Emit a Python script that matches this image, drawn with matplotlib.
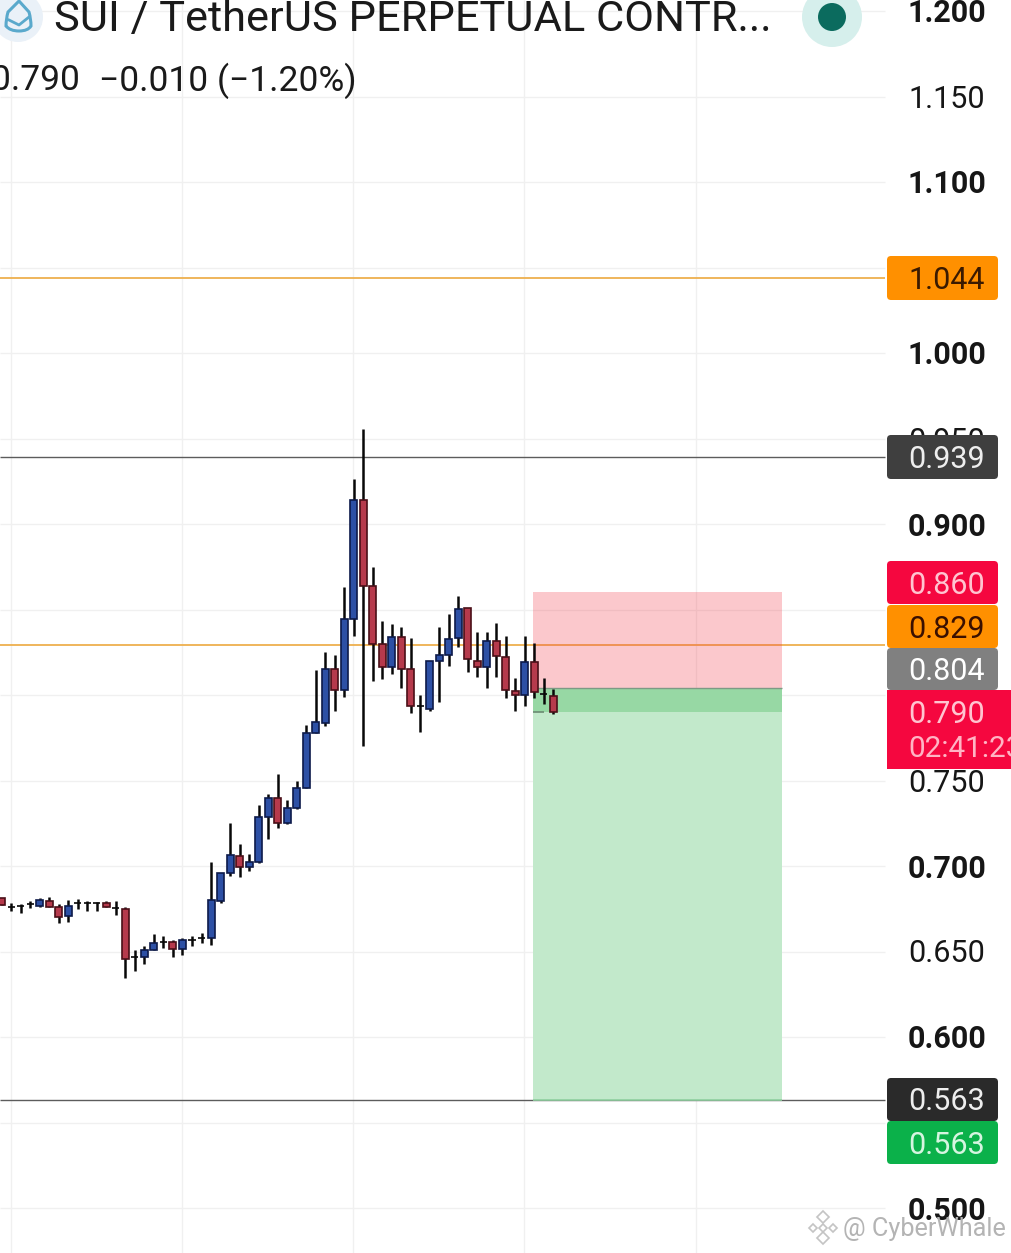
import matplotlib
matplotlib.use("Agg")
import matplotlib.pyplot as plt
from matplotlib.patches import FancyBboxPatch, Circle, Rectangle, PathPatch, Polygon
from matplotlib.path import Path

plt.rcParams['font.family'] = ['Roboto', 'DejaVu Sans']

opens = [.6811,.6762,.6766,.6776,.6766,.6797,.6762,.6707,.6785,.6785,.6785,.6782,.6752,.6747,.6469,.6466,.6509,.6557,.6554,.6513,.6567,.6577,.6577,.6797,
         .6957,.7060,.6992,.7025,.7285,.7396,.7250,.7337,.7454,.7780,.7835,.8150,.8030,.8443,.9140,.8638,.8297,.8162,.8338,.8151,.7938,.7920,.8197,.8232,.8332,.8507,.8201,.8162,.8314,.8224,.8025,.7998,.8192,.8005,.7995]
closes = [.6772,.6762,.6766,.6776,.6801,.6762,.6703,.6766,.6785,.6785,.6785,.6758,.6752,.6454,.6469,.6509,.6548,.6557,.6513,.6565,.6567,.6577,.6801,.6957,
          .7062,.6996,.7025,.7285,.7396,.7250,.7337,.7454,.7776,.7841,.8150,.8029,.8443,.9140,.8638,.8299,.8162,.8338,.8151,.7936,.7938,.8199,.8233,.8326,.8505,.8211,.8162,.8314,.8227,.8030,.7998,.8192,.8020,.8005,.7900]
highs = [.6811,.6785,.6776,.6797,.6811,.6817,.6778,.6801,.6807,.6797,.6789,.6793,.6797,.6762,.6509,.6532,.6602,.6590,.6567,.6577,.6590,.6610,.7025,.6959,
         .7250,.7129,.7070,.7357,.7419,.7538,.7386,.7499,.7825,.8146,.8252,.8234,.8634,.9263,.9555,.8751,.8433,.8416,.8400,.8334,.8000,.8199,.8400,.8474,.8579,.8509,.8367,.8367,.8421,.8345,.8098,.8345,.8303,.8098,.8033]
lows = [.6772,.6738,.6727,.6752,.6762,.6758,.6668,.6674,.6747,.6738,.6738,.6758,.6715,.6343,.6387,.6427,.6509,.6520,.6469,.6479,.6532,.6551,.6538,.6782,
        .6941,.6937,.6972,.7019,.7158,.7224,.7244,.7332,.7454,.7776,.7821,.7909,.7990,.8345,.7704,.8084,.8094,.8123,.8043,.7893,.7786,.7908,.7959,.8170,.8283,.8137,.8108,.8043,.8108,.7981,.7908,.7933,.7981,.7950,.7888]

grid_prices = [1.20,1.15,1.10,1.05,1.00,.95,.90,.85,.80,.75,.70,.65,.60,.55,.50]
grid_idx = [0.95,18.95,36.95,54.95,72.95]
axis_labels = [("1.200",1.2,True),("1.150",1.15,False),("1.100",1.1,True),("1.000",1.0,True),("0.950",.95,False),
               ("0.900",.9,True),("0.750",.75,False),("0.700",.7,True),("0.650",.65,False),("0.600",.6,True),("0.500",.5,True)]
orange_levels = [1.044,.829]
dark_levels = [.939,.563]
entry, stop, target, last = .804, .860, .563, .790
box_start, box_end = 55.85, 82.05

W, H = 1012, 1253
fig = plt.figure(figsize=(W/100, H/100), dpi=100, facecolor='white')
ax = fig.add_axes([0,0,1,1])
ax.set_axis_off()
PX_I0, PX_STEP = 1.8, 9.51
ax.set_xlim((0-PX_I0)/PX_STEP, (W-PX_I0)/PX_STEP)
ax.set_ylim((2063-H)/1710, 2063/1710)
xr = (885-PX_I0)/PX_STEP
xl = ax.get_xlim()[0]

ax.hlines(grid_prices, xl, xr, color='#f0f0f0', lw=1.0, zorder=1)
ax.vlines(grid_idx, ax.get_ylim()[0], ax.get_ylim()[1], color='#f0f0f0', lw=1.0, zorder=1)
ax.hlines(orange_levels, xl, xr, color='#eeb04e', lw=1.3, zorder=2)
ax.hlines(dark_levels, xl, xr, color='#5c5c5c', lw=1.0, zorder=2)

ax.add_patch(Rectangle((box_start, entry), box_end-box_start, stop-entry, fc='#f23645', alpha=.27, ec='none', zorder=3))
ax.add_patch(Rectangle((box_start, target), box_end-box_start, entry-target, fc='#c2e9cb', ec='none', zorder=3))
ax.add_patch(Rectangle((box_start, last), box_end-box_start, entry-last, fc='#97d8a4', ec='none', zorder=3))
ax.hlines(entry, box_start, box_end, color='#7d9a85', lw=1.0, zorder=3)
ax.hlines(target, box_start, box_end, color='#8fcf9f', lw=1.2, zorder=3)
ax.hlines(last, box_start, 57.0, color='#6a8a72', lw=1.2, zorder=4)

xs = list(range(len(opens)))
ax.vlines(xs, lows, highs, color='#080808', lw=1.8, zorder=5)
for x, o, c in zip(xs, opens, closes):
    up = c > o
    fc = '#2d50a5' if up else '#b63a4c'
    ec = '#0d1a4a' if up else '#4a0f18'
    if o == c:
        fc = ec = '#080808'
    ax.bar(x, abs(c-o), bottom=min(o, c), width=.74, color=fc, edgecolor=ec, lw=1.2, zorder=6)

# overlay in pixel units for the price scale labels and header
ov = fig.add_axes([0,0,1,1])
ov.set_axis_off()
ov.patch.set_alpha(0)
ov.set_xlim(0, W)
ov.set_ylim(H, 0)

FS = 22
for t, p, b in axis_labels:
    ov.text(947, (2063-1710*p)+2.5, t, ha='center', va='center', fontsize=FS,
            fontweight='bold' if b else 'normal', color='#161616', zorder=2)

def box(y0, y1, color, x1=998):
    ov.add_patch(FancyBboxPatch((887, y0), x1-887, y1-y0, boxstyle='round,pad=0,rounding_size=4',
                                fc=color, ec='none', zorder=3))

tags = [(256,300,'#ff9000','1.044','#3a1a00'),(435,479,'#3f3f3f','0.939','#eeeeee'),
        (561,604,'#f5073f','0.860','#ffc4d0'),(605,648,'#ff9000','0.829','#3a1000'),
        (648,690,'#808080','0.804','#ffffff'),(1078,1121,'#2a2a2a','0.563','#eeeeee'),
        (1121,1164,'#0bb14a','0.563','#d6f5e0')]
for y0, y1, col, txt, tc in tags:
    box(y0, y1, col)
    ov.text(947, (y0+y1)/2+2.5, txt, ha='center', va='center', fontsize=FS, color=tc, zorder=4)
ov.add_patch(Rectangle((887,690), W-887, 79, fc='#f5073f', ec='none', zorder=3))
ov.text(947, 714.5, '0.790', ha='center', va='center', fontsize=FS, color='#ffc4d0', zorder=4)
ov.text(908, 749, '02:41:23', ha='left', va='center', fontsize=21.4, color='#ffb4c4', zorder=4, clip_on=True)

# header
ov.text(54, 19, 'SUI / TetherUS PERPETUAL CONTR...', ha='left', va='center', fontsize=31.2, color='#1a1a1a')
ov.text(80, 81, '0.790', ha='right', va='center', fontsize=25.5, color='#1a1a1a')
ov.text(99, 81, '−0.010 (−1.20%)', ha='left', va='center', fontsize=25.5, color='#1a1a1a')
ov.add_patch(Circle((18,17), 25, fc='#eaf1f8', ec='none'))
drop = Path([(19,1),(8,12),(6,19),(6,26),(10,31),(19,31),(28,31),(31,26),(31,19),(29,12),(19,1)],
            [Path.MOVETO,Path.LINETO,Path.CURVE3,Path.CURVE3,Path.CURVE3,Path.CURVE3,Path.CURVE3,Path.CURVE3,Path.CURVE3,Path.LINETO,Path.CLOSEPOLY])
ov.add_patch(PathPatch(drop, fc='none', ec='#5aa9cc', lw=2.2))
ov.plot([9,19,29],[20,25,17], color='#5aa9cc', lw=2.0)
ov.add_patch(Circle((832,17), 30, fc='#d6efec', ec='none'))
ov.add_patch(Circle((832,17), 14, fc='#0b6b5e', ec='none'))

# watermark
ov.text(843, 1229, '@ CyberWhale', ha='left', va='center', fontsize=18.2, color='#b4b4b4', zorder=5)
for cx, cy, r in [(823,1217,6),(823,1238,6),(813,1228,4),(833,1228,4),(823,1228,4)]:
    ov.add_patch(Polygon([(cx,cy-r),(cx+r,cy),(cx,cy+r),(cx-r,cy)], fc='#ffffff', ec='#c4c4c4', lw=1.2, zorder=5))

fig.savefig('out.png', dpi=100, facecolor='white')
